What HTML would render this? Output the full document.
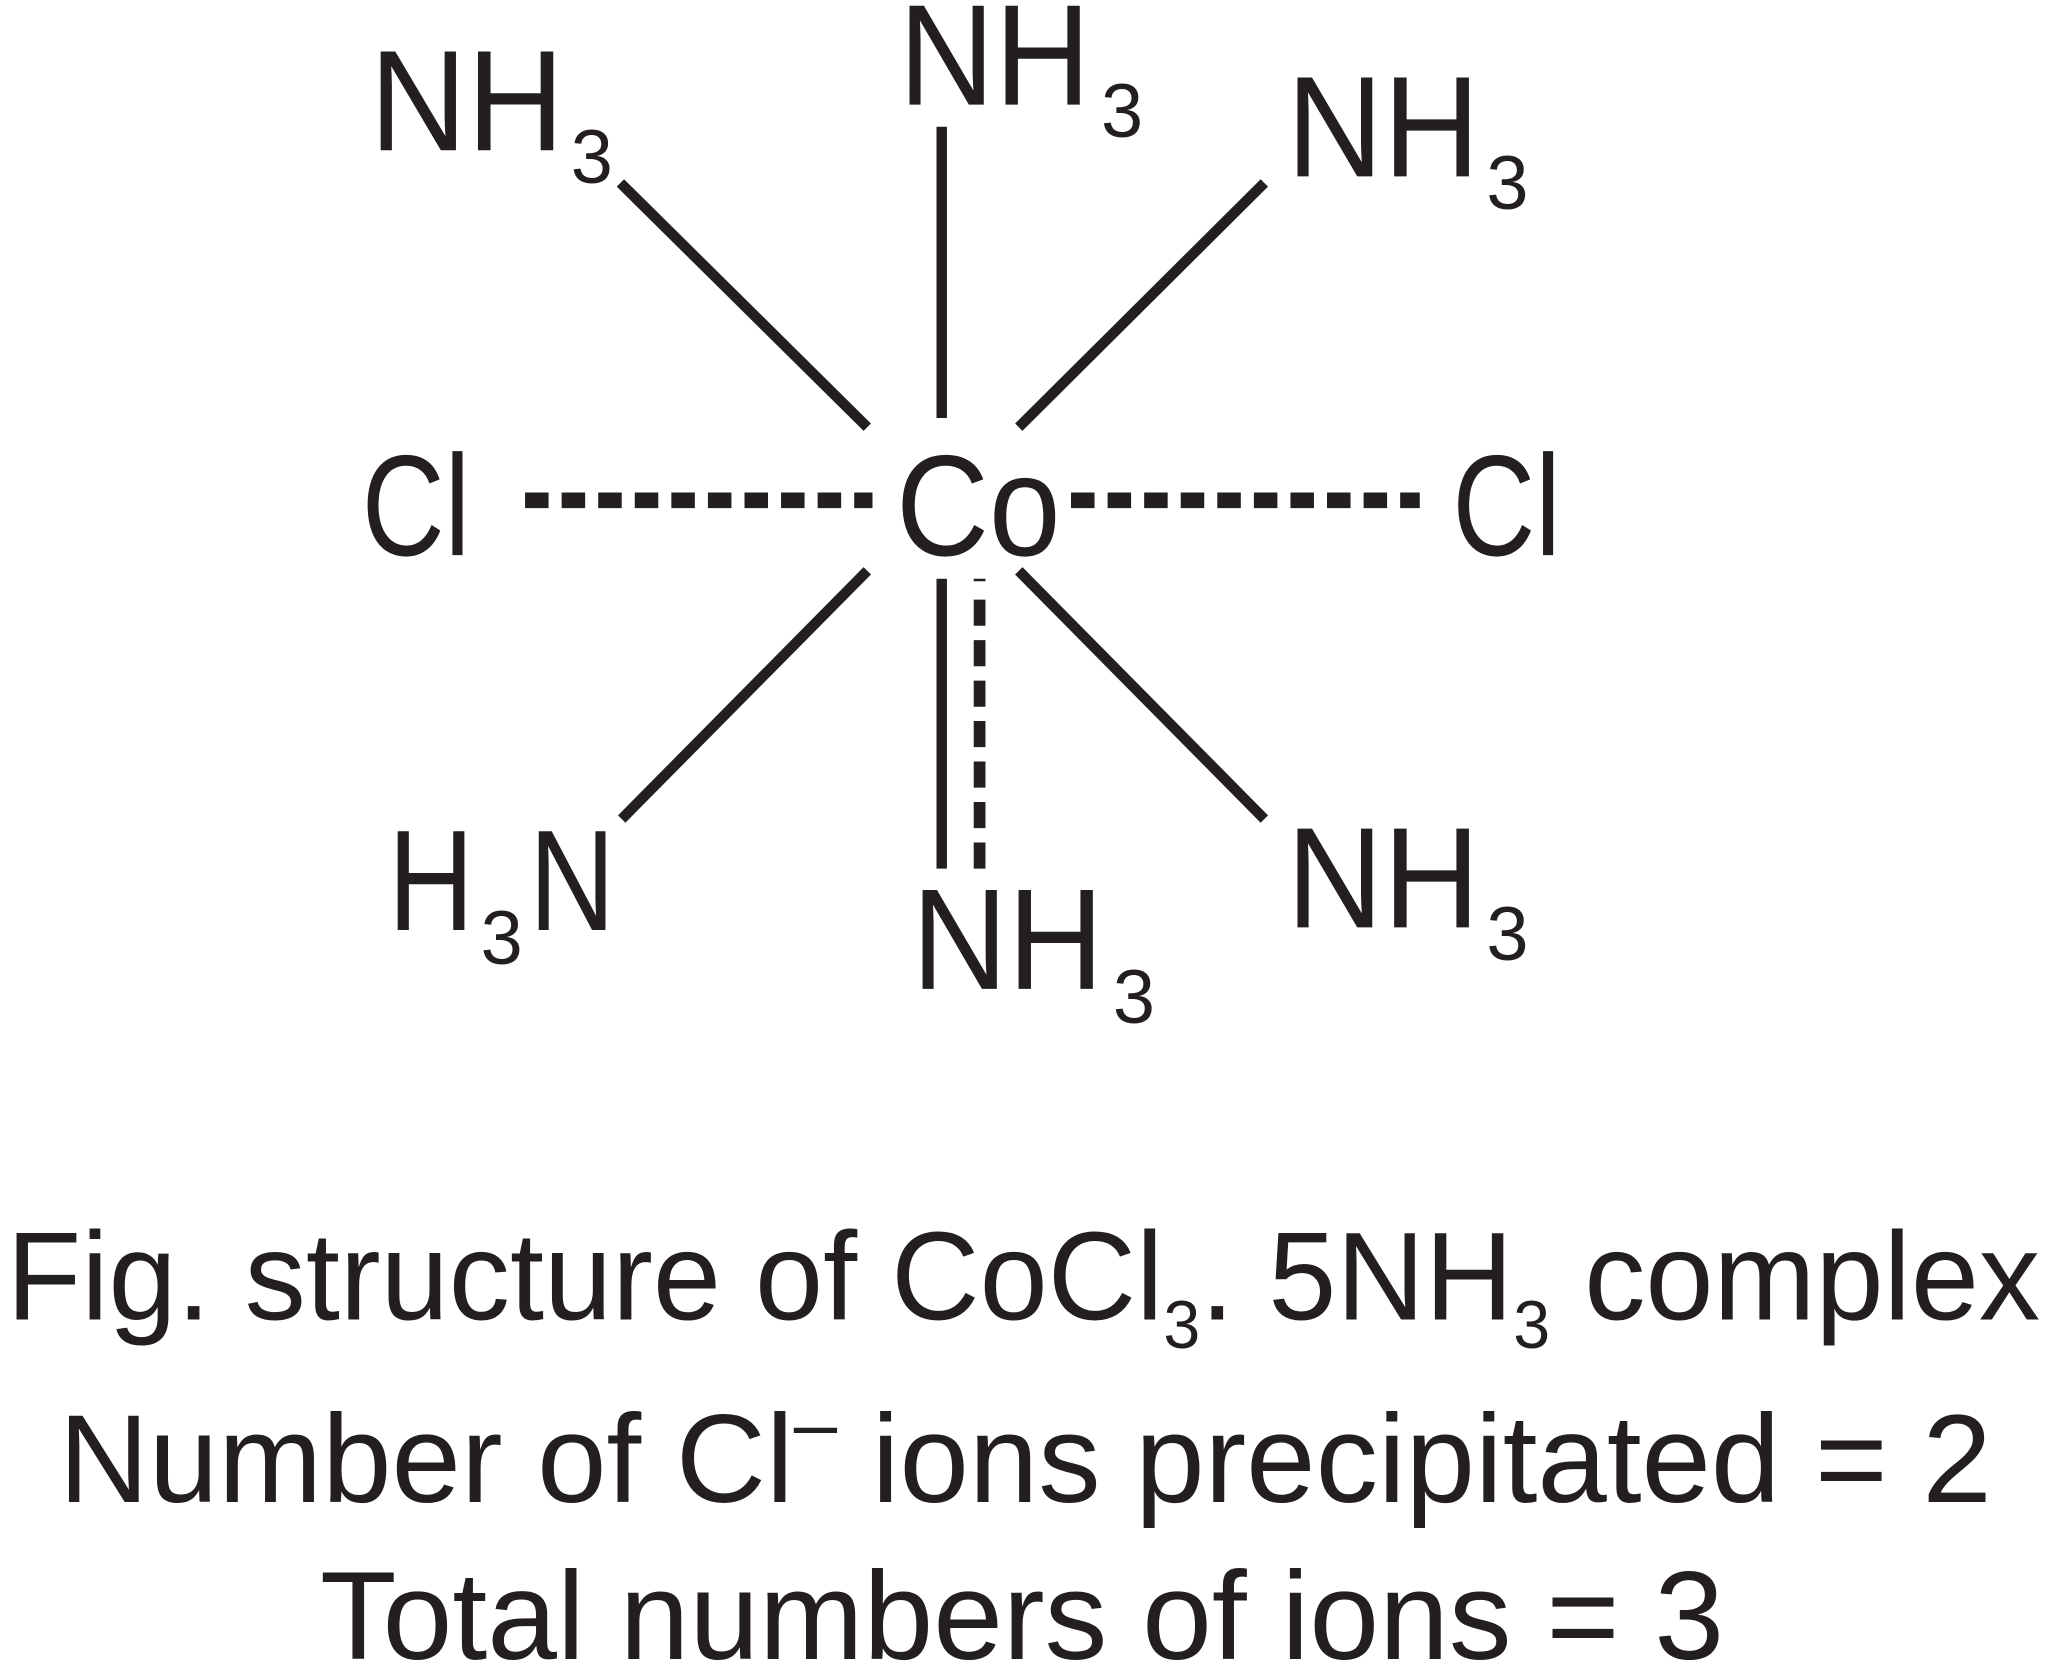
<!DOCTYPE html>
<html><head><meta charset="utf-8"><style>html,body{margin:0;padding:0;background:#fff}svg{display:block}</style></head>
<body>
<svg width="2048" height="1672" viewBox="0 0 1568 1280" xmlns="http://www.w3.org/2000/svg" font-family="Liberation Sans, sans-serif" fill="#231f20">
<rect width="1568" height="1280" fill="#fff"/>
<g stroke="#231f20" stroke-width="8" fill="none">
<line x1="475" y1="140" x2="664" y2="327"/>
<line x1="721" y1="97" x2="721" y2="320"/>
<line x1="968" y1="140" x2="780" y2="327"/>
<line x1="664" y1="437" x2="476" y2="627"/>
<line x1="780" y1="437" x2="968" y2="627"/>
<line x1="721" y1="443" x2="721" y2="665"/>
<line x1="750" y1="443" x2="750" y2="665" stroke-width="9" stroke-dasharray="2 14 20 11 20 11 20 11 20 11 20 11 20 11 20 11 20 11"/>
<line x1="402" y1="383" x2="668" y2="383" stroke-width="12" stroke-dasharray="18 10"/>
<line x1="820" y1="383" x2="1087" y2="383" stroke-width="12" stroke-dasharray="18 10"/>
</g>
<g font-size="110">
<text x="283" y="115" textLength="149" lengthAdjust="spacingAndGlyphs">NH</text><text x="437" y="140" font-size="58">3</text>
<text x="688" y="80" textLength="147" lengthAdjust="spacingAndGlyphs">NH</text><text x="843" y="105" font-size="58">3</text>
<text x="985" y="135" textLength="148" lengthAdjust="spacingAndGlyphs">NH</text><text x="1138" y="160" font-size="58">3</text>
<text x="277" y="425" textLength="83" lengthAdjust="spacingAndGlyphs">Cl</text>
<text x="686" y="425" textLength="126" lengthAdjust="spacingAndGlyphs">Co</text>
<text x="1112" y="425" textLength="83" lengthAdjust="spacingAndGlyphs">Cl</text>
<text x="297" y="712" textLength="66" lengthAdjust="spacingAndGlyphs">H</text><text x="368" y="738" font-size="58">3</text><text x="405" y="712" textLength="66" lengthAdjust="spacingAndGlyphs">N</text>
<text x="698" y="757" textLength="147" lengthAdjust="spacingAndGlyphs">NH</text><text x="852" y="783" font-size="58">3</text>
<text x="985" y="710" textLength="148" lengthAdjust="spacingAndGlyphs">NH</text><text x="1138" y="735" font-size="58">3</text>
</g>
<g font-size="96">
<text x="5" y="1010" textLength="1557" lengthAdjust="spacingAndGlyphs">Fig. structure of CoCl<tspan font-size="52" dy="22">3</tspan><tspan dy="-22">. 5NH</tspan><tspan font-size="52" dy="22">3</tspan><tspan dy="-22"> complex</tspan></text>
<text x="45" y="1150" textLength="1480" lengthAdjust="spacingAndGlyphs">Number of Cl<tspan font-size="60" dy="-40">–</tspan><tspan dy="40"> ions precipitated = 2</tspan></text>
<text x="245" y="1270" textLength="1075" lengthAdjust="spacingAndGlyphs">Total numbers of ions = 3</text>
</g>
</svg>
</body></html>
